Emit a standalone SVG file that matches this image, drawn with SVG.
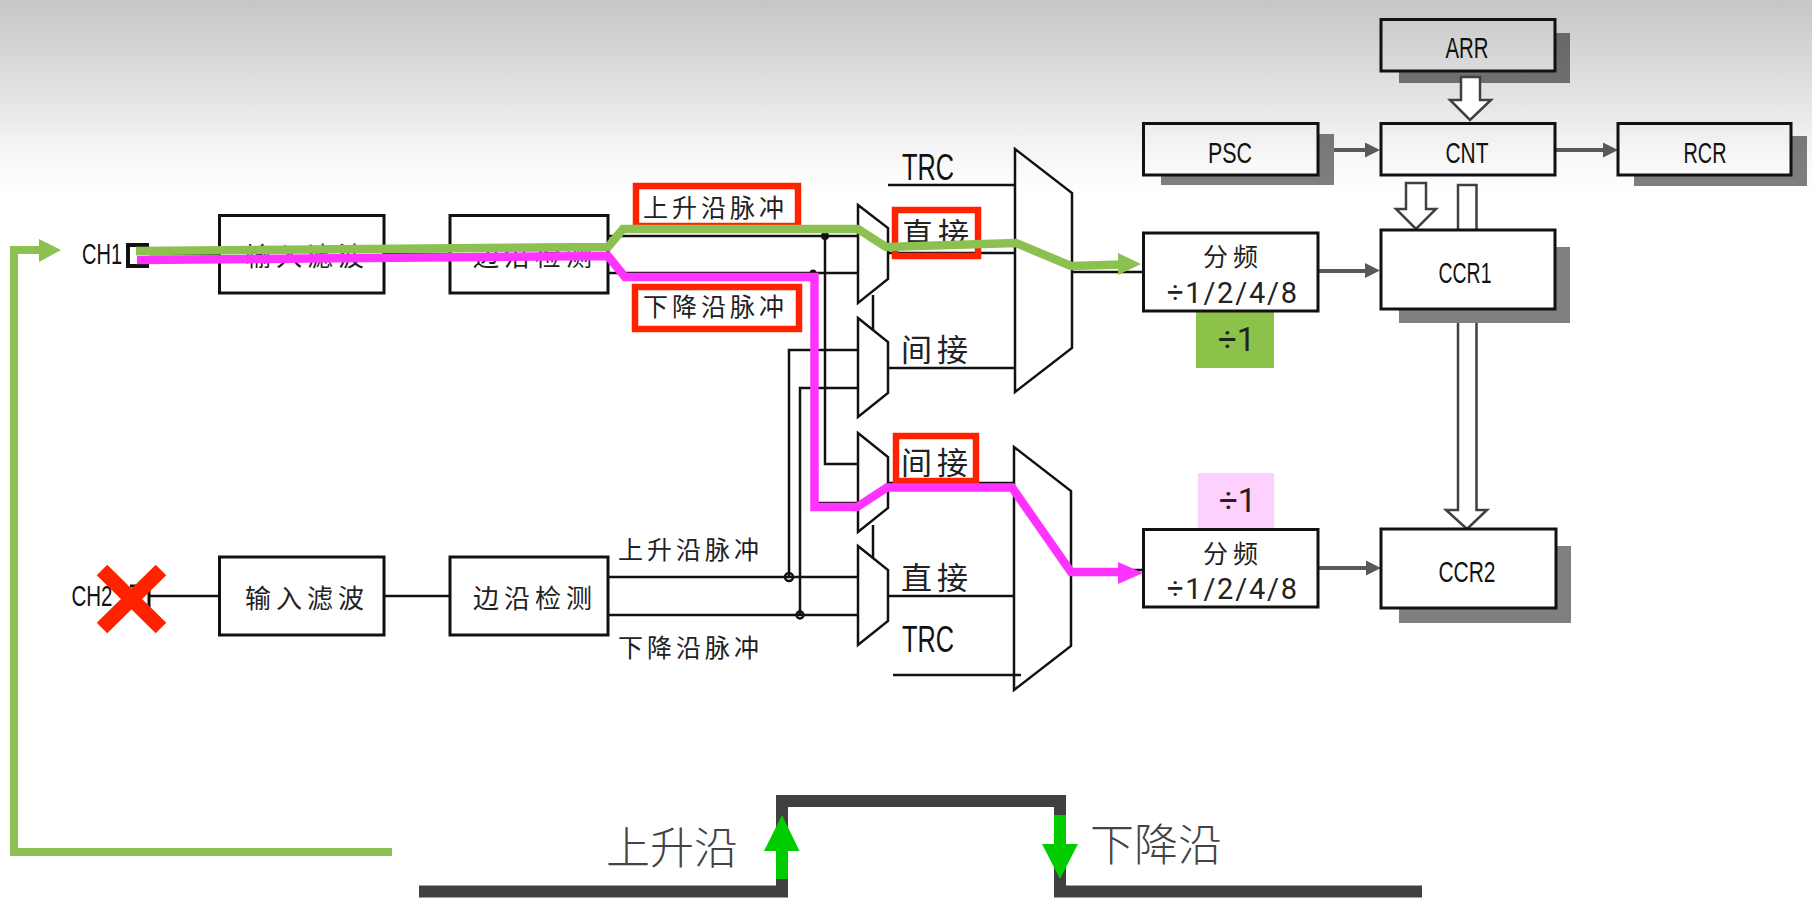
<svg xmlns="http://www.w3.org/2000/svg" width="1812" height="906" viewBox="0 0 1812 906">
<style>
.box{fill:#fff;stroke:#111;stroke-width:3}
.gbox{fill:url(#bg);stroke:#111;stroke-width:3}
.sh{fill:url(#shade)}
.w{fill:none;stroke:#111;stroke-width:2.5}
.mux{fill:#fff;stroke:#111;stroke-width:2.5;stroke-linejoin:miter}
.cn{font-family:"Noto Sans CJK SC",sans-serif;fill:#222}
.s{font-size:25px;letter-spacing:4px}
.f{font-size:26px;letter-spacing:5px}
.m{font-size:31px;letter-spacing:5px}
.la{font-family:"Liberation Sans",sans-serif;fill:#111;text-anchor:middle}
.ro{font-family:Roboto,sans-serif;fill:#222}
.red{fill:none;stroke:#ff2200;stroke-width:6.5}
.ga{fill:none;stroke:#59595b;stroke-width:4}
.gh{fill:#59595b}
.ho{fill:#fff;stroke:#404040;stroke-width:2.5;stroke-linejoin:miter}
.dot{fill:none;stroke:#111;stroke-width:2.5}
.dotf{fill:#111}
.sig{fill:none;stroke:#404040;stroke-width:12;stroke-linejoin:miter}
.big{font-family:"Noto Sans CJK SC",sans-serif;font-size:42px;font-weight:300;fill:#444}
</style>
<defs>
<linearGradient id="bg" gradientUnits="userSpaceOnUse" x1="0" y1="0" x2="0" y2="195">
<stop offset="0" stop-color="#c6c6c6"/><stop offset="0.5" stop-color="#e4e4e4"/><stop offset="0.82" stop-color="#f8f8f8"/><stop offset="1" stop-color="#ffffff"/>
</linearGradient>
<linearGradient id="shade" gradientUnits="userSpaceOnUse" x1="0" y1="0" x2="0" y2="195">
<stop offset="0" stop-color="#626262"/><stop offset="1" stop-color="#808080"/>
</linearGradient>
</defs>
<rect width="1812" height="906" fill="#fff"/>
<rect width="1812" height="195" fill="url(#bg)"/>

<g id="ch1-filter"><rect class="box" x="219.500" y="215.500" width="164.500" height="77.500"/><text class="cn f" x="245" y="266">输入滤波</text></g>
<g id="ch1-edge"><rect class="box" x="450" y="215.500" width="158" height="77.500"/><text class="cn f" x="473" y="266">边沿检测</text></g>
<g id="ch2-filter"><rect class="box" x="219.500" y="557" width="164.500" height="78"/><text class="cn f" x="245" y="608">输入滤波</text></g>
<g id="ch2-edge"><rect class="box" x="450" y="557" width="158" height="78"/><text class="cn f" x="473" y="608">边沿检测</text></g>
<g id="ch1-port"><text class="la" x="102" y="264" font-size="29" textLength="40" lengthAdjust="spacingAndGlyphs">CH1</text><path class="w" style="stroke-width:4" d="M149 245H128V266H149"/></g>
<g id="ch2-port"><text class="la" x="92" y="606" font-size="29" textLength="41" lengthAdjust="spacingAndGlyphs">CH2</text><path class="w" style="stroke-width:3" d="M130 586H149V606H130"/></g>

<g id="connectors">
<path class="w" d="M149 254H219.500M384 254H450M149 596H219.500M384 596H450"/>
<path class="w" d="M608 236H858M608 273H858M608 577H858M608 615H858"/>
<path class="w" d="M825 236V464H858M813 273V503H858M789 577V350H858M800 615V388H858"/>
<path class="w" d="M873 295V330M873 525V558"/>
<path class="w" d="M888 253H1015M888 368H1015M888 483H1014M888 596H1014M888 185H1015M893 675H1021"/>
<path class="w" d="M1072 272H1143M1071 570H1143"/>
<circle class="dotf" cx="825" cy="236" r="4"/><circle class="dotf" cx="813" cy="273" r="3.500"/>
<circle class="dot" cx="789" cy="577" r="4"/><circle class="dot" cx="800" cy="615" r="3.500"/>
<path class="ga" d="M1318 150H1367M1555 150H1604M1318 271H1367M1318 568H1367"/>
<path class="gh" d="M1380 150L1365 142.500V157.500ZM1618 150L1603 142.500V157.500ZM1380 270.500L1365 263V278ZM1381 568L1366 560.500V575.500Z"/>
</g>

<g id="mux-a"><path class="mux" d="M858 205L888 228V279L858 303Z"/></g>
<g id="mux-b"><path class="mux" d="M858 318L888 342V393L858 417Z"/></g>
<g id="mux-c"><path class="mux" d="M858 433L888 457V508L858 532Z"/></g>
<g id="mux-d"><path class="mux" d="M858 546L888 570V621L858 645Z"/></g>
<g id="sel-top"><path class="w" d="M1015 149L1072 193V348L1015 392Z"/></g>
<g id="sel-bottom"><path class="w" d="M1014 447L1071 491V646L1014 690Z"/></g>

<g id="labels">
<text class="cn s" x="643" y="217">上升沿脉冲</text>
<text class="cn s" x="643" y="316">下降沿脉冲</text>
<text class="cn s" x="618" y="559">上升沿脉冲</text>
<text class="cn s" x="618" y="657">下降沿脉冲</text>
<text class="la" x="928" y="180" font-size="36" textLength="52" lengthAdjust="spacingAndGlyphs">TRC</text>
<text class="la" x="928" y="652" font-size="36" textLength="52" lengthAdjust="spacingAndGlyphs">TRC</text>
<text class="cn m" x="902" y="245">直接</text>
<text class="cn m" x="901" y="361">间接</text>
<text class="cn m" x="901" y="474">间接</text>
<text class="cn m" x="901" y="589">直接</text>
<rect class="red" x="636" y="186" width="162" height="40"/>
<rect class="red" x="635" y="287" width="164" height="42"/>
<rect class="red" x="895" y="210" width="83" height="46"/>
<rect class="red" x="896" y="436" width="80" height="45"/>
</g>

<g id="psc"><rect class="sh" x="1161" y="134" width="173" height="51"/><rect class="gbox" x="1143.500" y="123.500" width="174.500" height="51.500"/><text class="la" x="1230" y="163" font-size="30" textLength="44" lengthAdjust="spacingAndGlyphs">PSC</text></g>
<g id="arr"><rect class="sh" x="1399" y="33" width="171" height="50"/><rect class="gbox" x="1381" y="19.500" width="174" height="51.500"/><text class="la" x="1467" y="58" font-size="30" textLength="43" lengthAdjust="spacingAndGlyphs">ARR</text></g>
<g id="cnt"><rect class="gbox" x="1381" y="123.500" width="174" height="51.500"/><text class="la" x="1467" y="163" font-size="30" textLength="43" lengthAdjust="spacingAndGlyphs">CNT</text></g>
<g id="rcr"><rect class="sh" x="1634" y="136" width="173" height="50"/><rect class="gbox" x="1618" y="123.500" width="173" height="51.500"/><text class="la" x="1705" y="163" font-size="30" textLength="43" lengthAdjust="spacingAndGlyphs">RCR</text></g>

<g id="bus-arrows">
<path class="ho" d="M1461 77H1480V100H1491L1470 120L1450 100H1461Z"/>
<path class="ho" d="M1406 183H1426V209H1436L1416 229L1396 209H1406Z"/>
<path class="ho" d="M1458 185H1476.500V510H1487L1467 529L1446 510H1458Z"/>
</g>

<g id="ccr1"><rect fill="#808080" x="1399" y="247" width="171" height="76"/><rect class="box" x="1381" y="230" width="174" height="79"/><text class="la" x="1465" y="283" font-size="30" textLength="53" lengthAdjust="spacingAndGlyphs">CCR1</text></g>
<g id="ccr2"><rect fill="#808080" x="1399" y="546" width="172" height="77"/><rect class="box" x="1381" y="529" width="175" height="79"/><text class="la" x="1467" y="582" font-size="30" textLength="57" lengthAdjust="spacingAndGlyphs">CCR2</text></g>
<g id="div1-tag"><rect fill="#8cc24a" x="1196" y="312" width="78" height="56"/><text class="ro" x="1218" y="351" font-size="33">÷1</text></g>
<g id="div2-tag"><rect fill="#fdd0fd" x="1198" y="473" width="76" height="56"/><text class="ro" x="1219" y="512" font-size="33">÷1</text></g>
<g id="div1"><rect class="box" x="1143.500" y="233" width="174.500" height="78"/><text class="cn" x="1203" y="266" font-size="25" letter-spacing="5">分频</text><text class="ro" x="1167" y="303" font-size="29" textLength="130">÷1/2/4/8</text></g>
<g id="div2"><rect class="box" x="1143.500" y="529.500" width="174.500" height="77.500"/><text class="cn" x="1203" y="563" font-size="25" letter-spacing="5">分频</text><text class="ro" x="1167" y="599" font-size="29" textLength="130">÷1/2/4/8</text></g>

<g id="paths">
<path fill="none" stroke="#8cc152" stroke-width="8.500" d="M136 251L608 247L623 229H858L886 247L1016 243L1071 266L1122 264.500"/>
<path fill="#8cc152" d="M1141 264L1118 253V275Z"/>
<path fill="none" stroke="#8cc152" stroke-width="8" d="M392 852H14V250H42"/>
<path fill="#8cc152" d="M61 250L39 239V262Z"/>
<path fill="none" stroke="#ff33ff" stroke-width="8.500" d="M137 260L608 256L625 277H814.500V507H857L887 487.500H1012L1071 572L1122 572"/>
<path fill="#ff33ff" d="M1143 573L1118 562V584Z"/>
<path fill="none" stroke="#ff2200" stroke-width="15" d="M102 570L161 628M161 570L102 628"/>
</g>

<g id="signal">
<path class="sig" d="M419 891.500H782V801H1060V891.500H1422"/>
<path fill="#00cc00" d="M776 879V851H764L782 815L799.500 851H788V879Z"/>
<path fill="#00cc00" d="M1054 815H1066V844H1078L1060 879L1042 844H1054Z"/>
<text class="big" x="606" y="864" font-size="44" style="font-size:44px">上升沿</text>
<text class="big" x="1090" y="861" style="font-size:44px">下降沿</text>
</g>
</svg>
